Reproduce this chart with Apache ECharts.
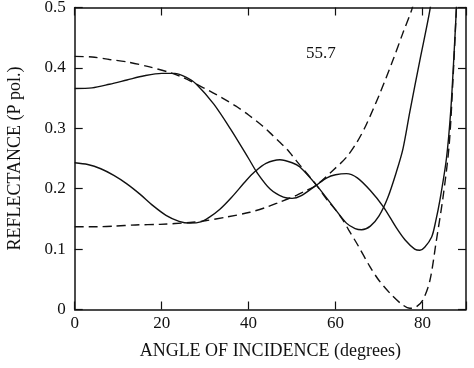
<!DOCTYPE html>
<html><head><meta charset="utf-8">
<script src="https://cdn.jsdelivr.net/npm/echarts@6/dist/echarts.min.js"></script>
<style>html,body{margin:0;padding:0;background:#fff}#c{width:474px;height:368px}</style>
</head><body><div id="c"></div>
<script>
// Angle of incidence (deg), reflectance pairs
const solidA = [[0,0.366],[4,0.367],[8,0.373],[12,0.380],[16,0.387],[20,0.391],[23,0.391],[26,0.383],[28,0.373],[32,0.340],[36,0.297],[40,0.250],[42,0.226],[45,0.199],[48,0.186],[50,0.184],[52,0.188],[55.6,0.206],[58,0.218],[60,0.223],[62.5,0.225],[65,0.218],[68,0.197],[71,0.170],[74,0.135],[76,0.115],[78.2,0.100],[79.4,0.098],[80.5,0.103],[82.1,0.120],[83,0.145],[84,0.181],[85.5,0.250],[86.5,0.33],[87.3,0.43],[87.8,0.5],[88.1,0.55]];
const solidB = [[0,0.243],[3,0.240],[6,0.233],[9,0.222],[12,0.208],[15,0.191],[18,0.172],[21,0.156],[24,0.146],[26.5,0.143],[29,0.145],[31,0.153],[33.4,0.166],[36,0.185],[39.5,0.214],[41.4,0.228],[44,0.242],[47.2,0.248],[50,0.243],[51.8,0.236],[55.6,0.206],[59.5,0.170],[62.5,0.143],[64.5,0.134],[66,0.132],[68,0.138],[70,0.155],[72,0.185],[74,0.228],[75.5,0.266],[77.1,0.328],[79.4,0.413],[81.7,0.496],[82.2,0.53]];
const dashC = [[0,0.419],[4,0.418],[8,0.414],[12,0.410],[17,0.402],[22,0.392],[25,0.384],[28,0.373],[31,0.362],[34,0.350],[37,0.337],[40,0.322],[43,0.305],[45,0.292],[47,0.278],[49,0.264],[50,0.255],[51.8,0.239],[55.6,0.206],[58,0.182],[60,0.165],[61.7,0.148],[63,0.132],[65,0.108],[67.9,0.071],[70,0.048],[72.5,0.027],[75,0.010],[77.1,0.002],[78.5,0.004],[80.1,0.016],[81.7,0.048],[83.2,0.115],[84.7,0.185],[86.1,0.270],[87,0.38],[87.8,0.5],[88.1,0.55]];
const dashD = [[0,0.137],[5,0.137],[9,0.138],[14,0.140],[19.6,0.141],[26.5,0.144],[30,0.147],[34.9,0.153],[40.3,0.161],[44,0.169],[47.2,0.178],[51,0.189],[53,0.196],[55.6,0.206],[59.5,0.231],[62.5,0.252],[65,0.278],[67,0.305],[70.2,0.358],[73.2,0.413],[75.5,0.458],[77.5,0.496],[78,0.51]];
const xTicks = [0,20,40,60,80];
const annotation = '55.7';

const ink = '#111';
const font = 'Liberation Serif, Times New Roman, serif';
const chart = echarts.init(document.getElementById('c'), null, {renderer:'canvas'});
const lineBase = {type:'line', showSymbol:false, smooth:0.3, clip:true, silent:true};
const axisLine = {show:true, onZero:false, lineStyle:{color:ink, width:1.5}};
chart.setOption({
  animation:false,
  grid:{left:74.7, right:8, top:7.5, bottom:58.5, containLabel:false, outerBoundsMode:'none'},
  xAxis:[
    {type:'value', min:0, max:90, interval:20, position:'bottom',
     axisLine, axisTick:{show:true, inside:true, length:8, lineStyle:{color:ink,width:1.2}},
     axisLabel:{color:ink, fontFamily:font, fontSize:17, margin:6,
       formatter:v=>xTicks.includes(v)?String(v):''},
     splitLine:{show:false},
     name:'ANGLE OF INCIDENCE (degrees)', nameLocation:'middle', nameGap:33,
     nameTextStyle:{color:ink, fontFamily:font, fontSize:18}},
    {type:'value', min:0, max:90, interval:20, position:'top',
     axisLine, axisTick:{show:true, inside:true, length:8, lineStyle:{color:ink,width:1.2}},
     axisLabel:{show:false}, splitLine:{show:false}}
  ],
  yAxis:[
    {type:'value', min:0, max:0.5, interval:0.1, position:'left',
     axisLine, axisTick:{show:true, inside:true, length:8, lineStyle:{color:ink,width:1.2}},
     axisLabel:{color:ink, fontFamily:font, fontSize:17, margin:9,
       formatter:v=>v===0?'0':v.toFixed(1)},
     splitLine:{show:false},
     name:'REFLECTANCE (P pol.)', nameLocation:'middle', nameGap:50,
     nameTextStyle:{color:ink, fontFamily:font, fontSize:18}},
    {type:'value', min:0, max:0.5, interval:0.1, position:'right',
     axisLine, axisTick:{show:true, inside:true, length:8, lineStyle:{color:ink,width:1.2}},
     axisLabel:{show:false}, splitLine:{show:false}}
  ],
  series:[
    Object.assign({}, lineBase, {data:solidA, lineStyle:{color:ink, width:1.4, type:'solid'}}),
    Object.assign({}, lineBase, {data:solidB, lineStyle:{color:ink, width:1.4, type:'solid'}}),
    Object.assign({}, lineBase, {data:dashC, lineStyle:{color:ink, width:1.4, type:[9,5]}}),
    Object.assign({}, lineBase, {data:dashD, lineStyle:{color:ink, width:1.4, type:[9,5]}})
  ],
  graphic:[{type:'text', left:306, top:45, style:{text:annotation, fill:ink, font:'17px '+font}}]
});
</script></body></html>
